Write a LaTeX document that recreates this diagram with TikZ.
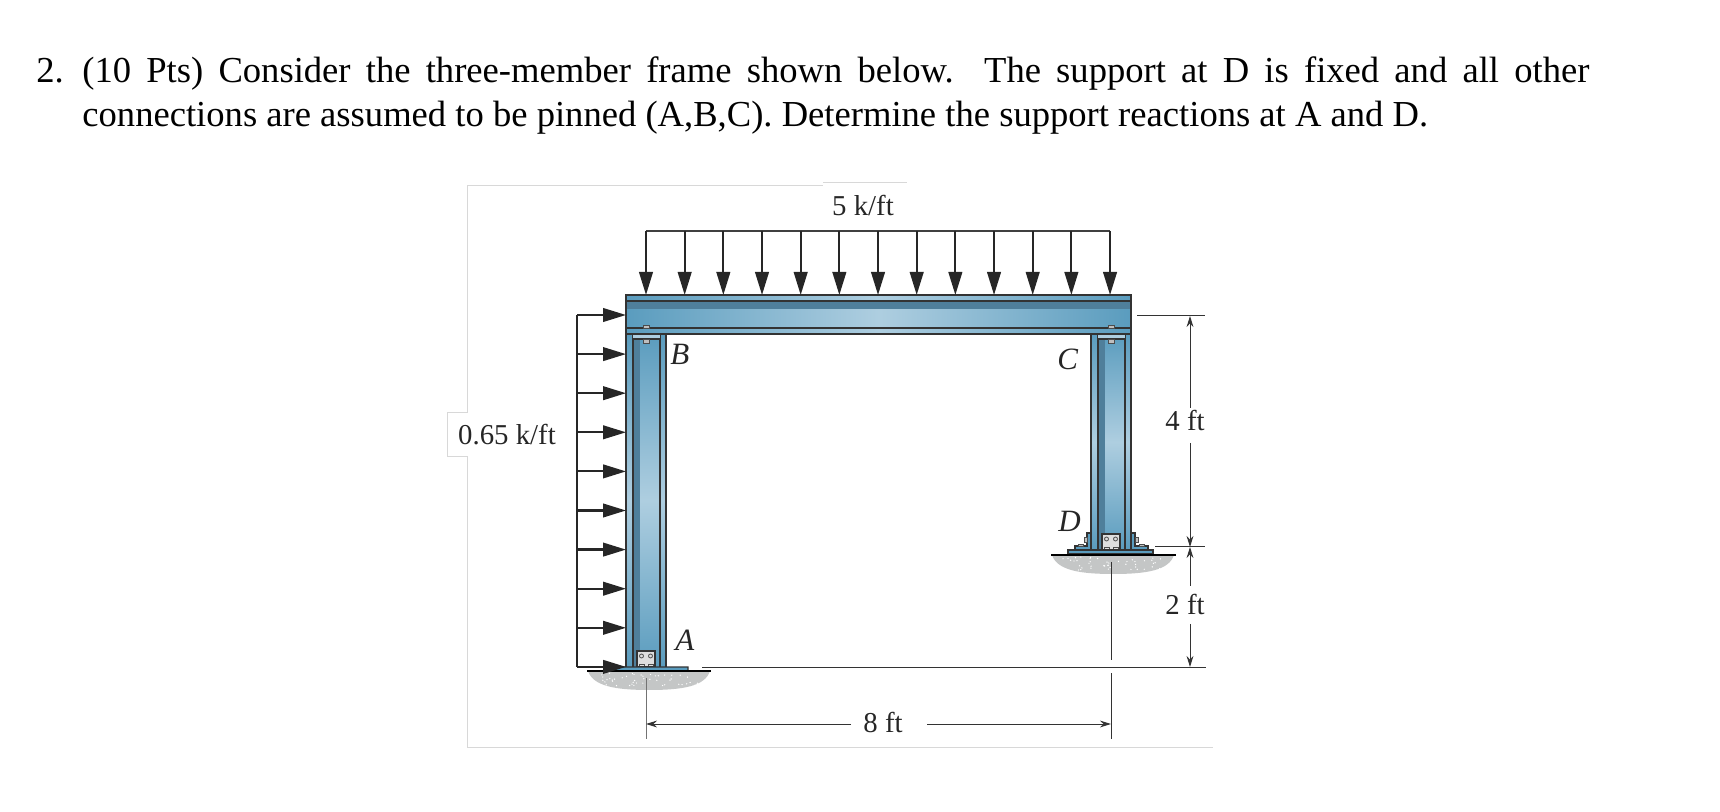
\documentclass[tikz,border=0pt]{standalone}
\usepackage{fontspec}
\setmainfont{Liberation Serif}
\usetikzlibrary{arrows.meta}
\definecolor{beamdark}{HTML}{4F7F9B}
\definecolor{beamedge}{HTML}{5A9CBE}
\definecolor{beamlight}{HTML}{AECEE0}
\definecolor{dimgray}{HTML}{333333}
\definecolor{framegray}{HTML}{D8D8D8}
\definecolor{groundgray}{HTML}{C4C6C6}
\tikzset{
  loadline/.style={line width=1.1pt, color=black!85, -{Triangle[length=11.5pt,width=6.8pt]}},
  dimline/.style={line width=0.5pt, color=dimgray},
  dimarrow/.style={dimline, -{Stealth[length=5.5pt,width=3.4pt]}},
  member/.style={draw=black!80, line width=0.7pt},
  dimtext/.style={inner sep=0pt, font=\fontsize{14.4}{15}\selectfont, text=black!85},
  pinlabel/.style={inner sep=0pt, anchor=base west, font=\fontsize{15.5}{15.5}\selectfont\itshape, text=black!85},
  headtext/.style={inner sep=0pt, anchor=base west, font=\fontsize{18.3}{22}\selectfont}
}
\begin{document}
\begin{tikzpicture}[x=0.5pt,y=-0.5pt]
\useasboundingbox (0,0) rectangle (1720,812);

% problem statement
\node[headtext] (num) at (36,83) {2.};
\node[headtext] (line1) at (82,83) {\makebox[753.5pt][s]{(10 Pts) Consider the three-member frame shown below.\ \ The support at D is fixed and all other}};
\node[headtext] (line2) at (82,127) {connections are assumed to be pinned (A,B,C). Determine the support reactions at A and D.};

% faint frame of the figure
\draw[framegray, line width=0.5pt] (823,183)--(907,183);
\draw[framegray, line width=0.5pt] (467,413)--(467,186)--(823,186);
\draw[framegray, line width=0.5pt] (467,413)--(447,413)--(447,457)--(467,457)--(467,747)--(1213,747);

% ground under the supports
\pgfmathsetseed{7}
\foreach \gx/\gy in {587/671,1051/555}{
  \fill[groundgray] (\gx+1,\gy) .. controls ({\gx+6},{\gy+15}) and ({\gx+28},{\gy+19}) .. ({\gx+62},{\gy+19}) .. controls ({\gx+97},{\gy+19}) and ({\gx+118},{\gy+15}) .. ({\gx+123},\gy) -- cycle;
  \foreach \i in {1,...,45}{
    \fill[white] ({\gx+12+100*rnd},{\gy+2+13*rnd}) circle (0.7);
  }
}

% columns
\foreach \xl/\yb/\lab in {626/667/colA,1091/550/colD}{
  \fill[top color=beamedge, bottom color=beamedge, middle color=beamlight] (\xl,334) rectangle ({\xl+40},\yb);
  \fill[beamdark] ({\xl+7},339) rectangle ({\xl+14},\yb);
  \draw[member] (\xl,334)--(\xl,\yb);
  \draw[member] ({\xl+40},334)--({\xl+40},\yb);
  \draw[member] ({\xl+7},334)--({\xl+7},\yb);
  \draw[member] ({\xl+34},334)--({\xl+34},\yb);
  \fill[beamlight] ({\xl+7},334) rectangle ({\xl+34},339);
  \draw[member] ({\xl+7},339)--({\xl+34},339);
  % web clip with bolts
  \draw[member, fill=black!13] ({\xl+11},{\yb-16}) rectangle ({\xl+29},\yb);
  \draw[black!70, line width=0.4pt] ({\xl+15.5},{\yb-11}) circle (2);
  \draw[black!70, line width=0.4pt] ({\xl+24.5},{\yb-11}) circle (2);
  \draw[black!70, line width=0.4pt] ({\xl+13},{\yb-1}) -- ({\xl+13},{\yb-3}) -- ({\xl+18},{\yb-3}) -- ({\xl+18},{\yb-1});
  \draw[black!70, line width=0.4pt] ({\xl+22},{\yb-1}) -- ({\xl+22},{\yb-3}) -- ({\xl+27},{\yb-3}) -- ({\xl+27},{\yb-1});
}

% angle brackets at D
\draw[member, fill=beamedge] (1091,533)--(1087,533)--(1087,546)--(1075,546)--(1075,550)--(1091,550)--cycle;
\draw[member, fill=beamedge] (1131,533)--(1135,533)--(1135,546)--(1148,546)--(1148,550)--(1131,550)--cycle;
\foreach \bx/\by/\bw/\bh in {1084/537/3/5,1135/537/3/5,1078/544/5/2,1139/544/5/2}{
  \draw[black!70, fill=black!25, line width=0.3pt] (\bx,\by) rectangle ({\bx+\bw},{\by+\bh});
}

% base plates and ground lines
\draw[member, fill=beamedge] (613,671)--(617,667)--(688,667)--(688,671)--cycle;
\draw[member, fill=beamedge] (1068,554)--(1068,550)--(1153,550)--(1153,554)--cycle;
\draw[black, line width=0.8pt] (587,671)--(711,671);
\draw[black, line width=0.8pt] (1051,555)--(1176,555);

% top member
\fill[left color=beamedge, right color=beamedge, middle color=beamlight] (626,295) rectangle (1131,334);
\fill[beamdark] (626,301) rectangle (1131,309);
\draw[member] (626,295) rectangle (1131,334);
\draw[member] (626,301)--(1131,301);
\draw[member] (626,328)--(1131,328);
\foreach \bx in {646,1111}{
  \draw[black!70, fill=black!25, line width=0.3pt] ({\bx-3},325) rectangle ({\bx+3},328);
  \draw[black!70, fill=black!25, line width=0.3pt] ({\bx-3},339) rectangle ({\bx+3},343);
}

% distributed loads
\draw[black!75, line width=0.7pt] (646,231)--(1110,231);
\foreach \i in {0,...,12}{
  \draw[loadline] ({646+38.67*\i},231)--({646+38.67*\i},295);
}
\draw[black!85, line width=0.7pt] (577,315)--(577,667);
\foreach \i in {0,...,9}{
  \draw[loadline] (577,{315+39.1*\i})--(626,{315+39.1*\i});
}
\node[dimtext] (loadtop) at (863,206) {5 k/ft};
\node[dimtext] (loadleft) at (507,435) {0.65 k/ft};

% pin labels
\node[pinlabel] (lblB) at (670,365) {B};
\node[pinlabel] (lblC) at (1057,370) {C};
\node[pinlabel] (lblD) at (1058,532) {D};
\node[pinlabel] (lblA) at (675,650) {A};

% dimensions, vertical
\coordinate (dimtop) at (1190,316);
\coordinate (dimmid) at (1190,547);
\coordinate (dimbot) at (1190,667);
\node[dimtext] (dimfour) at (1185,421) {4 ft};
\node[dimtext] (dimtwo) at (1185,605) {2 ft};
\draw[dimline] (1137,316)--(1205,316);
\draw[dimline] (1155,547)--(1205,547);
\draw[dimline] (702,667.5)--(1206,667.5);
\draw[dimarrow] (1190,408)--(dimtop);
\draw[dimarrow] (1190,443)--(dimmid);
\draw[dimarrow] (1190,586)--(dimmid);
\draw[dimarrow] (1190,624)--(dimbot);

% dimensions, horizontal
\coordinate (dimleft) at (646,724);
\coordinate (dimright) at (1111,724);
\node[dimtext] (dimeight) at (883,723) {8 ft};
\draw[dimline, color=black!55] (646,678)--(646,739);
\draw[dimline] (1111,562)--(1111,660);
\draw[dimline] (1111,673)--(1111,739);
\draw[dimarrow] (851,724)--(dimleft);
\draw[dimarrow] (927,724)--(dimright);
\end{tikzpicture}
\end{document}
